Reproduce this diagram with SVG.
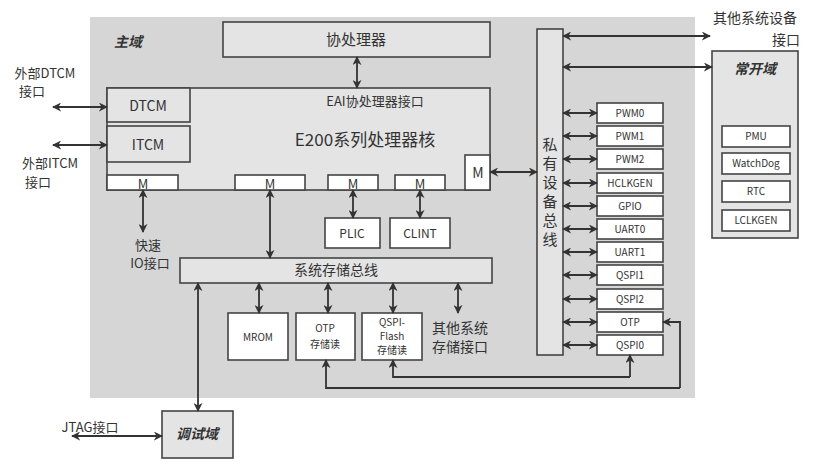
<svg xmlns="http://www.w3.org/2000/svg" width="836" height="476" viewBox="0 0 836 476">
<style>
text{font-family:"Noto Sans CJK SC","Noto Sans",sans-serif;fill:#333;text-anchor:middle}
.b{fill:#e4e4e4;stroke:#444;stroke-width:1.6}
.w{fill:#fff;stroke:#444;stroke-width:1.6}
.c{stroke:#333;stroke-width:1.8;fill:none;marker-start:url(#a);marker-end:url(#a)}
.e{stroke:#333;stroke-width:1.8;fill:none;marker-end:url(#a)}
.s{font-size:10px}
.t{font-weight:bold;font-style:italic;font-size:14px}
</style>
<defs><marker id="a" viewBox="0 0 10 10" refX="9" refY="5" markerWidth="9" markerHeight="9" markerUnits="userSpaceOnUse" orient="auto-start-reverse"><path d="M0,0L10,5L0,10L3,5z" fill="#333"/></marker></defs>
<rect width="836" height="476" fill="#fff"/>
<g id="main"><rect x="90" y="17" width="605" height="381" fill="#d6d6d6"/><text x="128" y="47" class="t">主域</text></g>
<g id="coproc"><rect x="223" y="22" width="267" height="35" class="b"/><text x="356" y="45" font-size="15">协处理器</text></g>
<g id="core"><rect x="107" y="88" width="383" height="102" class="b"/>
<text x="375" y="106" font-size="13">EAI协处理器接口</text><text x="365" y="146" font-size="17">E200系列处理器核</text>
<rect x="107" y="88" width="83" height="34" class="b"/><text x="148" y="111" font-size="14">DTCM</text>
<rect x="107" y="126" width="83" height="36" class="b"/><text x="148" y="150" font-size="14">ITCM</text>
<rect x="107" y="175" width="71" height="15" class="w"/><text x="143" y="189" font-size="13">M</text>
<rect x="235" y="175" width="70" height="15" class="w"/><text x="270" y="189" font-size="13">M</text>
<rect x="328" y="175" width="50" height="15" class="w"/><text x="353" y="189" font-size="13">M</text>
<rect x="395" y="175" width="50" height="15" class="w"/><text x="420" y="189" font-size="13">M</text>
<rect x="465" y="155" width="25" height="35" class="w"/><text x="478" y="178" font-size="14">M</text></g>
<g id="plic"><rect x="325" y="218" width="55" height="30" class="w"/><text x="352" y="238" font-size="12">PLIC</text></g>
<g id="clint"><rect x="390" y="218" width="60" height="30" class="w"/><text x="420" y="238" font-size="12">CLINT</text></g>
<g id="sysbus"><rect x="180" y="258" width="312" height="25" class="b"/><text x="336" y="275" font-size="14">系统存储总线</text></g>
<g id="mrom"><rect x="228" y="313" width="60" height="47" class="w"/><text x="258" y="341" class="s">MROM</text></g>
<g id="otpm"><rect x="296" y="313" width="59" height="47" class="w"/><text x="325" y="332" class="s">OTP</text><text x="325" y="348" class="s">存储读</text></g>
<g id="qspif"><rect x="362" y="313" width="60" height="47" class="w"/><text x="392" y="326" class="s">QSPI-</text><text x="392" y="340" class="s">Flash</text><text x="392" y="354" class="s">存储读</text></g>
<g id="debug"><rect x="162" y="411" width="71" height="47" class="b"/><text x="197" y="439" class="t">调试域</text></g>
<g id="pbus"><rect x="537" y="29" width="26" height="326" class="b"/>
<text x="550" y="150" font-size="15">私</text><text x="550" y="169" font-size="15">有</text><text x="550" y="188" font-size="15">设</text><text x="550" y="207" font-size="15">备</text><text x="550" y="226" font-size="15">总</text><text x="550" y="245" font-size="15">线</text></g>
<g id="periph">
<rect x="597" y="103" width="66" height="20" class="w"/><text x="630" y="117" class="s">PWM0</text>
<rect x="597" y="126" width="66" height="20" class="w"/><text x="630" y="140" class="s">PWM1</text>
<rect x="597" y="149" width="66" height="20" class="w"/><text x="630" y="163" class="s">PWM2</text>
<rect x="597" y="173" width="66" height="20" class="w"/><text x="630" y="187" class="s">HCLKGEN</text>
<rect x="597" y="196" width="66" height="20" class="w"/><text x="630" y="210" class="s">GPIO</text>
<rect x="597" y="219" width="66" height="20" class="w"/><text x="630" y="233" class="s">UART0</text>
<rect x="597" y="242" width="66" height="20" class="w"/><text x="630" y="256" class="s">UART1</text>
<rect x="597" y="265" width="66" height="20" class="w"/><text x="630" y="279" class="s">QSPI1</text>
<rect x="597" y="289" width="66" height="20" class="w"/><text x="630" y="303" class="s">QSPI2</text>
<rect x="597" y="312" width="66" height="20" class="w"/><text x="630" y="326" class="s">OTP</text>
<rect x="597" y="335" width="66" height="20" class="w"/><text x="630" y="349" class="s">QSPI0</text></g>
<g id="aon"><rect x="712" y="51" width="86" height="187" class="b"/><text x="755" y="74" class="t">常开域</text>
<rect x="722" y="126" width="68" height="21" class="w"/><text x="756" y="140" class="s">PMU</text>
<rect x="722" y="153" width="68" height="21" class="w"/><text x="756" y="167" class="s">WatchDog</text>
<rect x="722" y="181" width="68" height="21" class="w"/><text x="756" y="195" class="s">RTC</text>
<rect x="722" y="210" width="68" height="21" class="w"/><text x="756" y="224" class="s">LCLKGEN</text></g>
<g id="labels" font-size="13">
<text x="45" y="78" font-size="13">外部DTCM</text><text x="32" y="96" font-size="13">接口</text>
<text x="50" y="168" font-size="13">外部ITCM</text><text x="38" y="187" font-size="13">接口</text>
<text x="148" y="250" font-size="13">快速</text><text x="150" y="268" font-size="13">IO接口</text>
<text x="460" y="333" font-size="14">其他系统</text><text x="460" y="352" font-size="14">存储接口</text>
<text x="90" y="432" font-size="13">JTAG接口</text>
<text x="755" y="23" font-size="14">其他系统设备</text><text x="786" y="45" font-size="14">接口</text></g>
<g id="connectors">
<path class="c" d="M357 57V88"/><path class="c" d="M53 107H107"/><path class="c" d="M53 145H107"/>
<path class="c" d="M143 190V232"/><path class="c" d="M270 190V258"/><path class="c" d="M353 190V218"/><path class="c" d="M420 190V218"/>
<path class="c" d="M259 283V313"/><path class="c" d="M328 283V313"/><path class="c" d="M393 283V313"/><path class="c" d="M458 283V313"/>
<path class="c" d="M198 283V411"/><path class="c" d="M72 436H162"/>
<path class="c" d="M490 172H537"/><path class="c" d="M563 36H710"/><path class="c" d="M563 67H712"/>
<path class="c" d="M563 113H597"/><path class="c" d="M563 136H597"/><path class="c" d="M563 159H597"/><path class="c" d="M563 183H597"/><path class="c" d="M563 206H597"/><path class="c" d="M563 229H597"/><path class="c" d="M563 252H597"/><path class="c" d="M563 275H597"/><path class="c" d="M563 299H597"/><path class="c" d="M563 322H597"/><path class="c" d="M563 345H597"/>
<path class="e" d="M630 377H393V360"/><path class="e" d="M630 377V355"/>
<path class="e" d="M680 388H326V360"/><path class="e" d="M680 388V322H663"/>
</g>
</svg>
